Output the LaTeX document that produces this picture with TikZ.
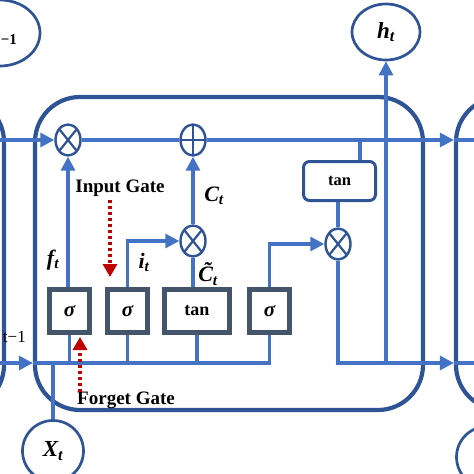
\documentclass[tikz,border=0pt]{standalone}
\usepackage{fontspec}
\setmainfont{Liberation Serif}
\usetikzlibrary{arrows.meta,shapes.geometric}
\definecolor{lineblue}{HTML}{4472C4}
\definecolor{cellblue}{HTML}{2F5496}
\definecolor{gategray}{HTML}{44546A}
\definecolor{gatered}{HTML}{C00000}
\begin{document}
\begin{tikzpicture}[x=1pt,y=-1pt,
  cellbox/.style={draw=cellblue, line width=4.2pt, rounded corners=45pt, minimum width=388pt, minimum height=313pt, inner sep=0pt},
  opnode/.style={draw=cellblue, line width=2.4pt, ellipse, minimum width=25pt, minimum height=31pt, inner sep=0pt, fill=white},
  mulop/.style={opnode, path picture={\draw[cellblue,line width=2.2pt] (path picture bounding box.north west)--(path picture bounding box.south east) (path picture bounding box.north east)--(path picture bounding box.south west);}},
  plusop/.style={opnode, path picture={\draw[cellblue,line width=2.2pt] (path picture bounding box.north)--(path picture bounding box.south) (path picture bounding box.east)--(path picture bounding box.west);}},
  gatebox/.style={draw=gategray, line width=4.8pt, minimum height=43pt, inner sep=0pt, fill=white, font=\fontsize{18}{20}\selectfont\bfseries},
  outbox/.style={draw=cellblue, line width=3pt, rounded corners=6pt, minimum width=72pt, minimum height=39pt, inner sep=0pt, fill=white, font=\fontsize{16.5}{18}\selectfont\bfseries},
  vecnode/.style={draw=cellblue, line width=2.7pt, ellipse, inner sep=0pt, font=\fontsize{23}{25}\selectfont\bfseries\itshape},
  flow/.style={draw=lineblue, line width=3.1pt},
  arr/.style={flow, -{Triangle[length=14pt,width=14pt]}},
  reddot/.style={draw=gatered, line width=3.2pt, dash pattern=on 3pt off 3pt, -{Triangle[length=13pt,width=14pt]}},
  lab/.style={font=\fontsize{22}{24}\selectfont\bfseries\itshape, inner sep=0pt},
  gatelab/.style={font=\fontsize{19}{21}\selectfont\bfseries, inner sep=0pt},
  sig/.style={font=\fontsize{21}{23}\selectfont\bfseries\itshape}
]
\path[use as bounding box] (0,0) rectangle (474,474);
\clip (0,0) rectangle (474,474);

% cells
\node[cellbox] (leftcell) at (-190,253.5) {};
\node[cellbox] (cell) at (229,253.5) {};
\node[cellbox] (rightcell) at (650,253.5) {};

% outer vector nodes
\node[vecnode, minimum width=80pt, minimum height=66pt] (hprev) at (0,33) {};
\node[anchor=east, inner sep=0pt, font=\fontsize{15}{17}\selectfont\bfseries] (hprevlab) at (17,40) {−1};
\node[vecnode, minimum width=68pt, minimum height=56pt] (ht) at (386,32) {h\textsubscript{t}};
\node[vecnode, circle, minimum size=61pt] (xt) at (53,451) {X\textsubscript{t}};
\node[vecnode, circle, minimum size=61pt] (xnext) at (487,457) {};
\node[anchor=east, inner sep=0pt, font=\fontsize{17}{19}\selectfont] (cprevlab) at (26,337) {t−1};

% coordinates
\coordinate (csL) at (0,140);
\coordinate (csR) at (474,140);
\coordinate (busL) at (0,363);
\coordinate (busR) at (474,363);
\coordinate (tap) at (360,140);

% operators
\node[mulop] (mul1) at (68,140) {};
\node[plusop] (add) at (193,140) {};
\node[mulop] (mul2) at (193,241) {};
\node[mulop] (mul3) at (338,244) {};

% gates
\node[gatebox, minimum width=40pt] (sig1) at (69.5,311) {\itshape\fontsize{21}{23}\selectfont σ};
\node[gatebox, minimum width=40pt] (sig2) at (127.5,311) {\itshape\fontsize{21}{23}\selectfont σ};
\node[gatebox, minimum width=65pt] (tanG) at (197,311) {tan};
\node[gatebox, minimum width=40pt] (sig3) at (269.5,311) {\itshape\fontsize{21}{23}\selectfont σ};
\node[outbox] (outtan) at (339.5,181) {tan};

% cell state line
\draw[arr] (csL) -- (mul1.west);
\draw[flow] (mul1.east) -- (add.west);
\draw[arr] (add.east) -- (rightcell.west |- add);
\draw[flow] (rightcell.west |- add) -- (csR);

% input bus
\draw[arr] (busL) -- (cell.west |- busL);
\draw[flow] (cell.west |- busL) -- (sig3.south |- busL) -- (sig3.south);
\draw[flow] (sig1.south) -- (sig1.south |- busL);
\draw[flow] (sig2.south) -- (sig2.south |- busL);
\draw[flow] (tanG.south) -- (tanG.south |- busL);
\draw[flow] (xt.north) -- (xt.north |- busL);

% gate outputs
\draw[arr] (sig1.north -| mul1) -- (mul1.south);
\draw[arr] (sig2.north) -- (sig2.north |- mul2) -- (mul2.west);
\draw[flow] (tanG.north -| mul2) -- (mul2.south);
\draw[arr] (mul2.north) -- (add.south);
\draw[arr] (sig3.north) -- (sig3.north |- mul3) -- (mul3.west);

% output path
\draw[flow] (tap) -- (tap |- outtan.north);
\draw[flow] (outtan.south -| mul3) -- (mul3.north);
\draw[arr] (mul3.south) -- (mul3.south |- busL) -- (rightcell.west |- busL);
\draw[flow] (rightcell.west |- busL) -- (busR);
\draw[arr] (ht.south |- busL) -- (ht.south);

% labels
\node[lab] (flab) at (53,260) {f\textsubscript{t}};
\node[lab] (ilab) at (144,262) {i\textsubscript{t}};
\node[lab] (clab) at (214,196) {C\textsubscript{t}};
\node[lab] (ctlab) at (208,274) {\~{C}\textsubscript{t}};
\node[gatelab] (inlab) at (120,188) {Input Gate};
\node[gatelab] (fglab) at (126,400) {Forget Gate};

% gate markers
\coordinate (ig1) at (110,200);
\coordinate (ig2) at (110,277);
\coordinate (fg1) at (80,392);
\coordinate (fg2) at (80,337);
\draw[reddot] (ig1) -- (ig2);
\draw[reddot] (fg1) -- (fg2);
\end{tikzpicture}
\end{document}
